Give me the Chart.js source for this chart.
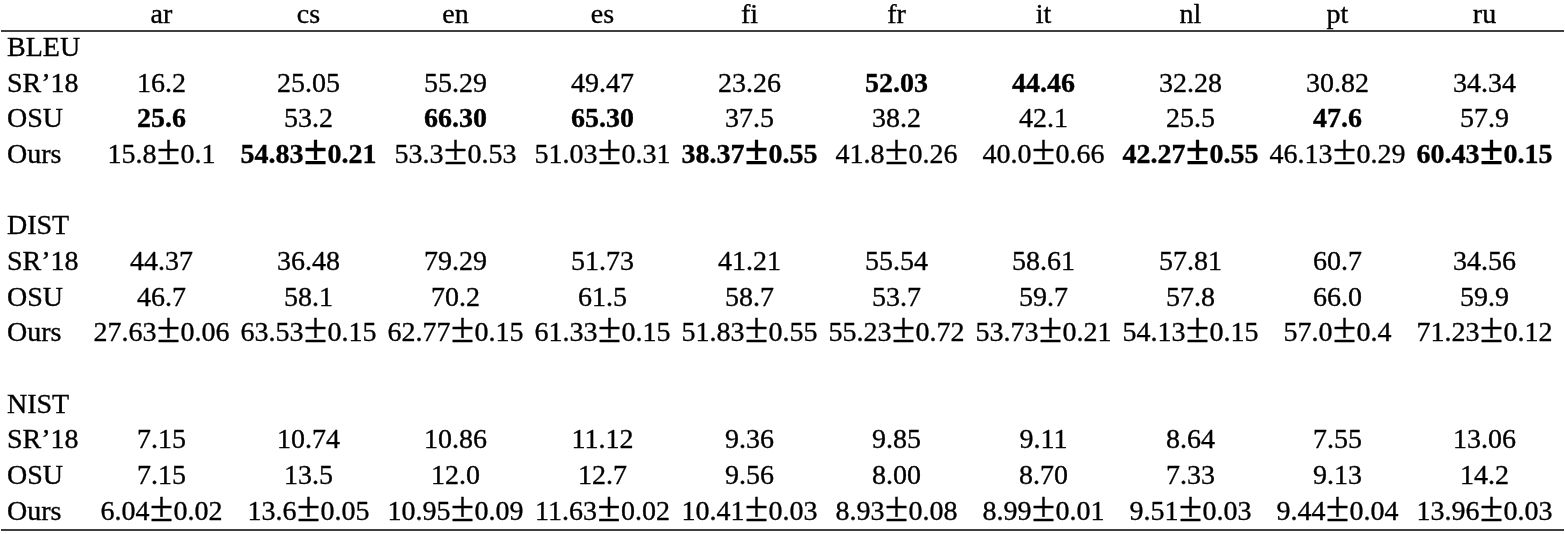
<!DOCTYPE html>
<html>
<head>
<meta charset="utf-8">
<script src="https://cdn.jsdelivr.net/npm/chart.js@4.4.1/dist/chart.umd.min.js"></script>
<style>
  html, body { margin: 0; padding: 0; background: #ffffff; }
  #wrap { width: 1565px; height: 534px; position: relative; }
</style>
</head>
<body>
<div id="wrap"><canvas id="c"></canvas></div>
<script>
// ---- data ----
const languages = ['ar', 'cs', 'en', 'es', 'fi', 'fr', 'it', 'nl', 'pt', 'ru'];
const metrics = ['BLEU', 'DIST', 'NIST'];
const systems = ['SR’18', 'OSU', 'Ours'];

const bleuSR18 = ['16.2', '25.05', '55.29', '49.47', '23.26', '52.03', '44.46', '32.28', '30.82', '34.34'];
const bleuOSU  = ['25.6', '53.2', '66.30', '65.30', '37.5', '38.2', '42.1', '25.5', '47.6', '57.9'];
const bleuOurs = ['15.8±0.1', '54.83±0.21', '53.3±0.53', '51.03±0.31', '38.37±0.55', '41.8±0.26', '40.0±0.66', '42.27±0.55', '46.13±0.29', '60.43±0.15'];

const distSR18 = ['44.37', '36.48', '79.29', '51.73', '41.21', '55.54', '58.61', '57.81', '60.7', '34.56'];
const distOSU  = ['46.7', '58.1', '70.2', '61.5', '58.7', '53.7', '59.7', '57.8', '66.0', '59.9'];
const distOurs = ['27.63±0.06', '63.53±0.15', '62.77±0.15', '61.33±0.15', '51.83±0.55', '55.23±0.72', '53.73±0.21', '54.13±0.15', '57.0±0.4', '71.23±0.12'];

const nistSR18 = ['7.15', '10.74', '10.86', '11.12', '9.36', '9.85', '9.11', '8.64', '7.55', '13.06'];
const nistOSU  = ['7.15', '13.5', '12.0', '12.7', '9.56', '8.00', '8.70', '7.33', '9.13', '14.2'];
const nistOurs = ['6.04±0.02', '13.6±0.05', '10.95±0.09', '11.63±0.02', '10.41±0.03', '8.93±0.08', '8.99±0.01', '9.51±0.03', '9.44±0.04', '13.96±0.03'];

// metric blocks in which the best value per column is set in bold
const boldBestIn = ['BLEU'];

// ---- build table structure from the arrays ----
const blocks = {
  'BLEU': [bleuSR18, bleuOSU, bleuOurs],
  'DIST': [distSR18, distOSU, distOurs],
  'NIST': [nistSR18, nistOSU, nistOurs]
};

const rowKeys = [];     // unique category keys for the y scale
const rowDisplay = [];  // text shown for each row
const datasets = [];
metrics.forEach((m, mi) => {
  if (mi > 0) { rowKeys.push('gap' + mi); rowDisplay.push(''); }
  rowKeys.push(m); rowDisplay.push(m);
  const rows = blocks[m];
  const best = languages.map((_, ci) => Math.max(...rows.map(r => parseFloat(r[ci]))));
  rows.forEach((vals, si) => {
    const key = m + '|' + systems[si];
    rowKeys.push(key); rowDisplay.push(systems[si]);
    datasets.push({
      label: key,
      data: languages.map((lang, ci) => ({
        x: lang,
        y: key,
        text: vals[ci],
        bold: boldBestIn.includes(m) && parseFloat(vals[ci]) === best[ci]
      })),
      pointRadius: 0,
      pointHoverRadius: 0,
      showLine: false
    });
  });
});

// ---- styling ----
const FONT_FAMILY = "'Liberation Serif', 'Times New Roman', serif";
const FONT_SIZE = 28;
const TEXT_COLOR = '#000000';
const STROKE_W = 0.35;
const PM_SCALE = 1.5;   // the ± sign is drawn larger, as in the TeX original
const PM_GAP = 0.02;    // em space around the ± sign
const PM_LIFT = 0.06;   // vertical correction of the enlarged ± (in its own em)

function put(ctx, s, x, y) {
  ctx.strokeText(s, x, y);
  ctx.fillText(s, x, y);
}

function drawCell(ctx, text, cx, cy, bold) {
  const parts = text.split('±');
  const weight = bold ? 'bold ' : '';
  const baseFont = weight + FONT_SIZE + 'px ' + FONT_FAMILY;
  ctx.font = baseFont;
  if (parts.length === 1) {
    ctx.textAlign = 'center';
    put(ctx, text, cx, cy);
    return;
  }
  const pmSize = FONT_SIZE * PM_SCALE;
  const pmFont = weight + pmSize + 'px ' + FONT_FAMILY;
  const gap = PM_GAP * FONT_SIZE;
  const wa = ctx.measureText(parts[0]).width;
  const wb = ctx.measureText(parts[1]).width;
  ctx.font = pmFont;
  const wp = ctx.measureText('±').width;
  let x = cx - (wa + gap + wp + gap + wb) / 2;
  ctx.textAlign = 'left';
  ctx.font = baseFont;
  put(ctx, parts[0], x, cy); x += wa + gap;
  ctx.font = pmFont;
  put(ctx, '±', x, cy - PM_LIFT * pmSize); x += wp + gap;
  ctx.font = baseFont;
  put(ctx, parts[1], x, cy);
}

const cellTextPlugin = {
  id: 'cellText',
  afterDatasetsDraw(chart) {
    const ctx = chart.ctx;
    ctx.save();
    ctx.fillStyle = TEXT_COLOR;
    ctx.strokeStyle = TEXT_COLOR;
    ctx.lineWidth = STROKE_W;
    ctx.lineJoin = 'round';
    ctx.textBaseline = 'middle';
    chart.data.datasets.forEach((ds, di) => {
      const meta = chart.getDatasetMeta(di);
      meta.data.forEach((pt, i) => {
        const raw = ds.data[i];
        drawCell(ctx, raw.text, pt.x, pt.y, raw.bold);
      });
    });
    ctx.restore();
  }
};

const rulesPlugin = {
  id: 'rules',
  afterDraw(chart) {
    const ctx = chart.ctx;
    const { top, bottom } = chart.chartArea;
    ctx.save();
    ctx.strokeStyle = '#000000';
    ctx.lineWidth = 1.4;
    ctx.beginPath();
    ctx.moveTo(1, top);
    ctx.lineTo(chart.width - 1, top);
    ctx.moveTo(1, bottom);
    ctx.lineTo(chart.width - 1, bottom);
    ctx.stroke();
    ctx.restore();
  }
};

const bgPlugin = {
  id: 'bg',
  beforeDraw(chart) {
    const ctx = chart.ctx;
    ctx.save();
    ctx.fillStyle = '#ffffff';
    ctx.fillRect(0, 0, chart.width, chart.height);
    ctx.restore();
  }
};

new Chart(document.getElementById('c'), {
  type: 'scatter',
  data: { datasets },
  options: {
    responsive: true,
    maintainAspectRatio: false,
    animation: false,
    events: [],
    layout: { padding: { left: 7, right: 7, top: 0, bottom: 4 } },
    plugins: {
      legend: { display: false },
      tooltip: { enabled: false }
    },
    scales: {
      x: {
        type: 'category',
        labels: languages,
        position: 'top',
        offset: true,
        grid: { display: false, drawTicks: false, tickLength: 0 },
        border: { display: false },
        ticks: {
          color: TEXT_COLOR,
          textStrokeColor: TEXT_COLOR,
          textStrokeWidth: STROKE_W,
          font: { family: FONT_FAMILY, size: FONT_SIZE, lineHeight: 1 },
          padding: 1,
          autoSkip: false,
          maxRotation: 0
        },
        afterFit(scale) {
          scale.height = 31;
          scale.paddingLeft = 0; scale.paddingRight = 0;
        }
      },
      y: {
        type: 'category',
        labels: rowKeys,
        position: 'left',
        offset: true,
        grid: { display: false, drawTicks: false, tickLength: 0 },
        border: { display: false },
        ticks: {
          color: TEXT_COLOR,
          textStrokeColor: TEXT_COLOR,
          textStrokeWidth: STROKE_W,
          font: { family: FONT_FAMILY, size: FONT_SIZE },
          crossAlign: 'far',
          autoSkip: false,
          padding: 0,
          callback: (value, index) => rowDisplay[index]
        },
        afterFit(scale) {
          scale.width = 81;
          scale.paddingTop = 0; scale.paddingBottom = 0;
        }
      }
    }
  },
  plugins: [bgPlugin, cellTextPlugin, rulesPlugin]
});
</script>
</body>
</html>
